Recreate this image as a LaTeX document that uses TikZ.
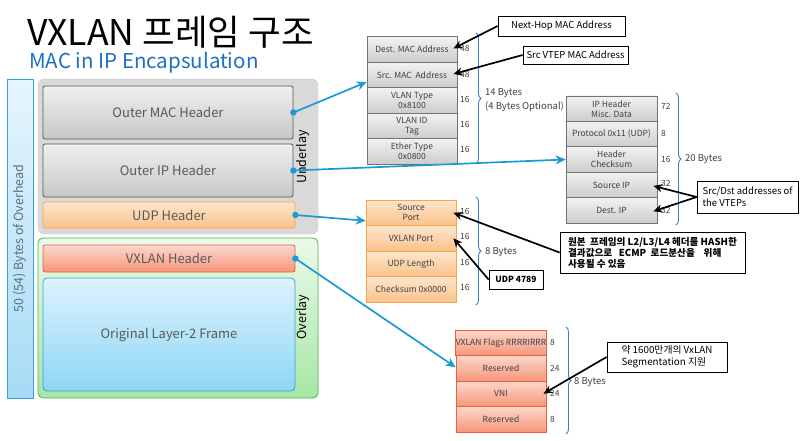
\documentclass[tikz,border=0pt]{standalone}
\usepackage{fontspec}
\setmainfont{Noto Sans CJK KR}
\usetikzlibrary{arrows.meta,decorations.pathreplacing,calc}
\definecolor{cblue}{HTML}{1A9AD6}
\definecolor{brblue}{HTML}{2F7FD1}
\definecolor{subblue}{HTML}{1F6FC4}
\definecolor{hdrtxt}{HTML}{595959}
\definecolor{celltxt}{HTML}{404040}
\definecolor{grayedge}{HTML}{595959}
\definecolor{orgedge}{HTML}{F5A54A}
\definecolor{orgtop}{HTML}{FDE6CC}
\definecolor{orgbot}{HTML}{FBC28C}
\definecolor{rededge}{HTML}{E8603C}
\definecolor{redtop}{HTML}{FCD8CC}
\definecolor{redbot}{HTML}{F6957A}
\definecolor{bluedge}{HTML}{3AA0D8}
\definecolor{bartop}{HTML}{E6F5FD}
\definecolor{barbot}{HTML}{A6DBF5}
\definecolor{bartxt}{HTML}{5A6F80}
\definecolor{underfill}{HTML}{D9D9D9}
\definecolor{underedge}{HTML}{CFCFCF}
\definecolor{greenedge}{HTML}{4DB34D}
\definecolor{greentop}{HTML}{EBFAEB}
\definecolor{greenbot}{HTML}{A6E6A6}
\definecolor{origtop}{HTML}{DDF3FC}
\definecolor{origbot}{HTML}{8ED6F6}
\newcommand\fsz[2]{\fontsize{#1}{#2}\selectfont}
\begin{document}
\begin{tikzpicture}[x=1pt,y=-1pt,
  hdr/.style={rounded corners=2pt, draw=#1, line width=0.8pt, inner sep=0pt, text=hdrtxt, font=\fsz{13}{15}},
  grayhdr/.style={hdr=grayedge, top color=white!94!black, bottom color=white!78!black},
  cellbase/.style={minimum width=90pt, minimum height=25.5pt, inner sep=0pt, align=center, text=celltxt, font=\fsz{8.5}{10}, line width=0.7pt},
  gcell/.style={cellbase, draw=black!55, top color=white!95!black, bottom color=white!80!black},
  ocell/.style={cellbase, draw=orgedge, top color=orgtop, bottom color=orgbot},
  rcell/.style={cellbase, draw=rededge, top color=redtop, bottom color=redbot},
  num/.style={anchor=west, inner sep=0pt, text=celltxt, font=\fsz{8.5}{10}},
  brace/.style={draw=brblue, line width=0.9pt, decorate, decoration={brace, amplitude=5pt}},
  blab/.style={anchor=west, inner sep=0pt, text=celltxt, font=\fsz{9.5}{14}, align=left},
  callout/.style={draw=black, line width=0.8pt, fill=white, inner sep=0pt, font=\fsz{9.5}{12}},
  carrow/.style={draw=black, line width=1.7pt, -{Stealth[length=9pt,width=8pt]}},
  barrow/.style={draw=cblue, line width=1.7pt, -{Stealth[length=10pt,width=9pt]}},
  sidelab/.style={rotate=90, inner sep=0pt, font=\fsz{12.5}{14}},
]
\useasboundingbox[fill=white] (0,0) rectangle (800,440);

% title
\node[anchor=base west, inner sep=0pt, font=\fsz{35.5}{40}] (title) at (27,45) {VXLAN 프레임 구조};
\node[anchor=base west, inner sep=0pt, font=\fsz{20.5}{24}, text=subblue] (sub) at (29,68) {MAC in IP Encapsulation};

% left bar
\node[rotate=90, minimum width=319pt, minimum height=26pt, inner sep=0pt, draw=bluedge, line width=0.8pt,
  top color=bartop, bottom color=barbot, text=bartxt, font=\fsz{12.5}{14}] (bar) at (20,238.5) {50 (54) Bytes of Overhead};

% underlay / overlay
\node[minimum width=280pt, minimum height=155pt, inner sep=0pt, rounded corners=6pt, fill=underfill, draw=underedge] (under) at (178,156.5) {};
\node[minimum width=280pt, minimum height=160pt, inner sep=0pt, rounded corners=5pt, draw=greenedge, line width=0.8pt,
  top color=greentop, bottom color=greenbot] (over) at (178,318) {};

\node[grayhdr, minimum width=250pt, minimum height=53pt] (omac) at (168,112.5) {Outer MAC Header};
\node[grayhdr, minimum width=250pt, minimum height=53pt] (oip) at (168,170.5) {Outer IP Header};
\node[hdr=orgedge, top color=orgtop, bottom color=orgbot, minimum width=252pt, minimum height=26pt] (udph) at (169,215) {UDP Header};
\node[hdr=rededge, top color=redtop, bottom color=redbot, minimum width=252pt, minimum height=27pt] (vxh) at (169,258.5) {VXLAN Header};
\node[hdr=bluedge, rounded corners=4pt, top color=origtop, bottom color=origbot, minimum width=252pt, minimum height=113pt] (orig) at (169,334.5) {Original Layer-2 Frame};

\node[sidelab] (ulab) at (303,157) {Underlay};
\node[sidelab] (olab) at (303,317) {Overlay};

% MAC table
\node[gcell] (dmac) at (412,49.5) {Dest. MAC Address};
\node[gcell] (smac) at (412,75) {Src. MAC\ \ Address};
\node[gcell] (vtype) at (412,100.5) {VLAN Type\\0x8100};
\node[gcell] (vid) at (412,126) {VLAN ID\\Tag};
\node[gcell] (etype) at (412,151.5) {Ether Type\\0x0800};
\node[num] (m1) at (460,48) {48};
\node[num] (m2) at (460,74) {48};
\node[num] (m3) at (460,99) {16};
\node[num] (m4) at (460,124) {16};
\node[num] (m5) at (460,149) {16};
\draw[brace] (476,33) coordinate (mb1) -- (476,164) coordinate (mb2);
\node[blab] (mlab) at (485,100) {14 Bytes\\(4 Bytes Optional)};

% IP table
\node[gcell, minimum width=91pt] (ipm) at (611.5,108.7) {IP Header\\Misc. Data};
\node[gcell, minimum width=91pt] (proto) at (611.5,134.1) {Protocol 0x11 (UDP)};
\node[gcell, minimum width=91pt] (hc) at (611.5,159.5) {Header\\Checksum};
\node[gcell, minimum width=91pt] (sip) at (611.5,184.9) {Source IP};
\node[gcell, minimum width=91pt] (dip) at (611.5,210.3) {Dest. IP};
\node[num] (i1) at (661,106) {72};
\node[num] (i2) at (661,133) {8};
\node[num] (i3) at (661,159) {16};
\node[num] (i4) at (661,183) {32};
\node[num] (i5) at (661,210) {32};
\draw[brace] (676,93) coordinate (ib1) -- (676,225) coordinate (ib2);
\node[blab] (ilab) at (685,159) {20 Bytes};

% UDP table
\node[ocell] (sport) at (411,212.75) {Source\\Port};
\node[ocell] (vxport) at (411,238.25) {VXLAN Port};
\node[ocell] (ulen) at (411,263.75) {UDP Length};
\node[ocell] (csum) at (411,289.25) {Checksum 0x0000};
\node[num] (u1) at (460,211) {16};
\node[num] (u2) at (460,236) {16};
\node[num] (u3) at (460,262) {16};
\node[num] (u4) at (460,287) {16};
\draw[brace] (476,197) coordinate (ub1) -- (476,305) coordinate (ub2);
\node[blab] (ulab2) at (485,252) {8 Bytes};

% VXLAN table
\node[rcell] (flags) at (501,342.75) {VXLAN Flags RRRRIRRR};
\node[rcell] (res1) at (501,368.25) {Reserved};
\node[rcell] (vni) at (501,393.75) {VNI};
\node[rcell] (res2) at (501,419.25) {Reserved};
\node[num] (v1) at (550,342) {8};
\node[num] (v2) at (550,368) {24};
\node[num] (v3) at (550,393) {24};
\node[num] (v4) at (550,419) {8};
\draw[brace] (566,327) coordinate (vb1) -- (566,434) coordinate (vb2);
\node[blab] (vlab) at (574,382) {8 Bytes};

% callouts
\node[callout, minimum width=127pt, minimum height=20pt] (nh) at (561.5,26) {Next-Hop MAC Address};
\node[callout, minimum width=105pt, minimum height=18pt] (sv) at (575.5,55) {Src VTEP MAC Address};
\node[callout, minimum width=101pt, minimum height=32pt, align=left] (sd) at (747.5,197) {Src/Dst addresses of\\the VTEPs};
\node[callout, minimum width=185pt, minimum height=41pt, align=left, font=\bfseries\fsz{9.6}{11}] (hash) at (652.5,252.5) {원본\ \ 프레임의 L2/L3/L4 헤더를 HASH한\\결과값으로\ \ \ ECMP\ \ 로드분산을\ \ \ \ 위해\\사용될 수 있음};
\node[callout, minimum width=54pt, minimum height=19pt, font=\bfseries\fsz{8.5}{10}] (u4789) at (516,279.5) {UDP 4789};
\node[callout, minimum width=120pt, minimum height=30pt, align=left, font=\fsz{9.8}{12}] (vnib) at (667,357) {약 1600만개의 VxLAN\\Segmentation 지원};

% black arrows
\draw[carrow] (nh.west) -- ($(dmac.east)+(-4,-1)$);
\draw[carrow] (sv.west) -- ($(smac.east)+(-4,-1)$);
\draw[carrow] (sd.west) -- ($(sip.east)+(-4,1)$);
\draw[carrow] (sd.west) -- ($(dip.east)+(-4,1)$);
\draw[carrow] (hash.west) -- ($(sport.east)+(-3,0)$);
\draw[carrow] (u4789.west) -- ($(vxport.east)+(-3,0)$);
\draw[carrow] (vnib.west) -- ($(vni.east)+(-3,0)$);

% blue connectors
\draw[barrow] (omac.east) -- ($(smac.west)+(0,7)$);
\draw[barrow] (oip.east) -- (hc.west);
\draw[barrow] (udph.east) -- ($(sport.west)+(0,8)$);
\draw[barrow] (vxh.east) -- ($(res1.west)+(0,-1)$);
\fill[cblue] (omac.east) circle (3.2pt);
\fill[cblue] (oip.east) circle (3.2pt);
\fill[cblue] (udph.east) circle (3.2pt);
\fill[cblue] (vxh.east) circle (3.2pt);
\end{tikzpicture}
\end{document}
